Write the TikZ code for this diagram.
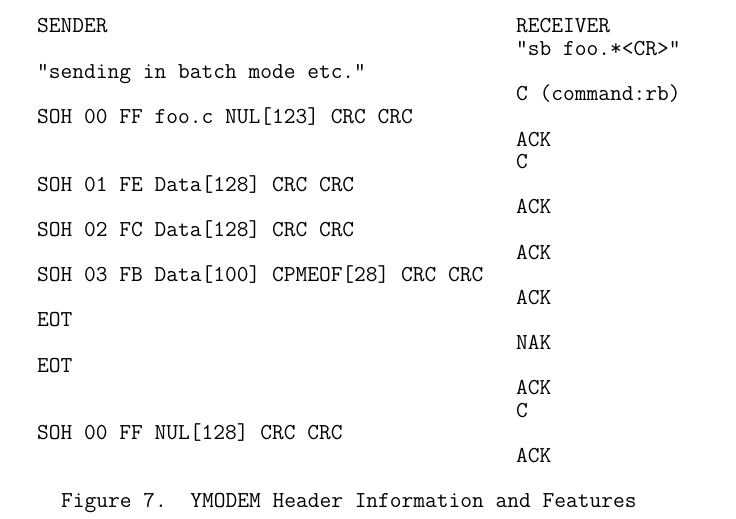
\documentclass[tikz,border=0pt]{standalone}
\begin{document}
\begin{tikzpicture}[x=1pt,y=-1pt,
  txt/.style={anchor=base west,inner sep=0pt,font=\fontsize{22.8}{26}\ttfamily}]
\useasboundingbox[fill=white] (0,0) rectangle (736,519);
\def\L{37}\def\R{516}
\newcommand\rowy[1]{33+22.6*#1}
\node[txt] (s) at (\L,{\rowy{0}}) {SENDER};
\node[txt] (r) at (\R,{\rowy{0}}) {RECEIVER};
\node[txt] (r1) at (\R,{\rowy{1}}) {"sb foo.*<CR>"};
\node[txt] (l2) at (\L,{\rowy{2}}) {"sending in batch mode etc."};
\node[txt] (r3) at (\R,{\rowy{3}}) {C (command:rb)};
\node[txt] (l4) at (\L,{\rowy{4}}) {SOH 00 FF foo.c NUL[123] CRC CRC};
\node[txt] (r5) at (\R,{\rowy{5}}) {ACK};
\node[txt] (r6) at (\R,{\rowy{6}}) {C};
\node[txt] (l7) at (\L,{\rowy{7}}) {SOH 01 FE Data[128] CRC CRC};
\node[txt] (r8) at (\R,{\rowy{8}}) {ACK};
\node[txt] (l9) at (\L,{\rowy{9}}) {SOH 02 FC Data[128] CRC CRC};
\node[txt] (r10) at (\R,{\rowy{10}}) {ACK};
\node[txt] (l11) at (\L,{\rowy{11}}) {SOH 03 FB Data[100] CPMEOF[28] CRC CRC};
\node[txt] (r12) at (\R,{\rowy{12}}) {ACK};
\node[txt] (l13) at (\L,{\rowy{13}}) {EOT};
\node[txt] (r14) at (\R,{\rowy{14}}) {NAK};
\node[txt] (l15) at (\L,{\rowy{15}}) {EOT};
\node[txt] (r16) at (\R,{\rowy{16}}) {ACK};
\node[txt] (r17) at (\R,{\rowy{17}}) {C};
\node[txt] (l18) at (\L,{\rowy{18}}) {SOH 00 FF NUL[128] CRC CRC};
\node[txt] (r19) at (\R,{\rowy{19}}) {ACK};
\node[txt] (cap) at (61,{\rowy{21}}) {Figure 7.\ \ YMODEM Header Information and Features};
\end{tikzpicture}
\end{document}
